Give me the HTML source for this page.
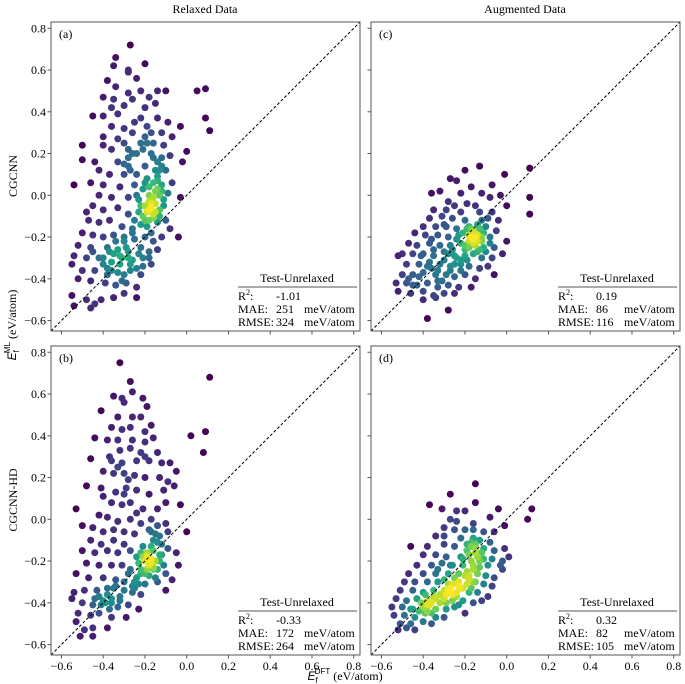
<!DOCTYPE html>
<html><head><meta charset="utf-8"><style>
html,body{margin:0;padding:0;background:#fff;}
svg{display:block;font-family:"Liberation Serif",serif;}
</style></head><body>
<svg id="chart" width="685" height="684" viewBox="0 0 685 684" xmlns="http://www.w3.org/2000/svg">
<text x="205" y="13" font-size="12" text-anchor="middle">Relaxed Data</text>
<text x="525" y="13" font-size="12" text-anchor="middle">Augmented Data</text>
<text transform="translate(17,176) rotate(-90)" font-size="12" text-anchor="middle">CGCNN</text>
<text transform="translate(17,500) rotate(-90)" font-size="12" text-anchor="middle">CGCNN-HD</text>
<text transform="translate(16,325) rotate(-90)" font-size="12" text-anchor="middle"><tspan font-family="Liberation Sans,sans-serif" font-style="italic">E</tspan><tspan font-family="Liberation Sans,sans-serif" font-size="8" dy="3">f</tspan><tspan font-family="Liberation Sans,sans-serif" font-size="8" dy="-9" dx="-3">ML</tspan><tspan dy="6">  (eV/atom)</tspan></text>
<text x="345" y="680" font-size="12" text-anchor="middle"><tspan font-family="Liberation Sans,sans-serif" font-style="italic">E</tspan><tspan font-family="Liberation Sans,sans-serif" font-size="8" dy="3">f</tspan><tspan font-family="Liberation Sans,sans-serif" font-size="8" dy="-9" dx="-3">DFT</tspan><tspan dy="6">  (eV/atom)</tspan></text>
<g id="panels"></g>
</svg>
<script>
const ticks = [-0.6,-0.4,-0.2,0.0,0.2,0.4,0.6,0.8];
const tickLabels = ["\u22120.6","\u22120.4","\u22120.2","0.0","0.2","0.4","0.6","0.8"];
const panelLetters = ["(a)","(c)","(b)","(d)"];
const r2Values = ["-1.01","0.19","-0.33","0.32"];
const maeValues = ["251","86","172","82"];
const rmseValues = ["324","116","264","105"];

const aX=[-0.27,-0.34,-0.20,-0.35,-0.28,-0.28,-0.38,-0.24,-0.34,-0.28,-0.22,-0.14,-0.10,0.09,0.05,-0.40,-0.35,-0.26,-0.18,-0.15,-0.30,-0.36,-0.20,-0.45,-0.40,-0.33,-0.22,-0.25,-0.14,-0.09,-0.03,0.09,-0.12,-0.36,-0.30,-0.19,0.11,-0.07,-0.20,-0.26,-0.40,-0.30,-0.22,-0.16,-0.11,-0.50,-0.40,-0.36,-0.28,-0.24,-0.17,-0.12,-0.08,-0.02,0.00,-0.50,-0.44,-0.33,-0.28,-0.20,-0.15,-0.10,-0.42,-0.37,-0.30,-0.24,-0.19,-0.16,-0.12,-0.07,-0.54,-0.46,-0.40,-0.32,-0.25,-0.21,-0.15,-0.13,-0.09,-0.03,-0.42,-0.36,-0.28,-0.23,-0.18,-0.15,-0.17,-0.19,-0.16,-0.13,-0.11,-0.21,-0.18,-0.22,-0.14,-0.10,-0.45,-0.40,-0.33,-0.28,-0.47,-0.42,-0.37,-0.31,-0.26,-0.08,-0.04,-0.50,-0.45,-0.40,-0.35,-0.30,-0.25,-0.20,-0.16,-0.12,-0.52,-0.46,-0.38,-0.33,-0.28,-0.22,-0.18,-0.14,-0.54,-0.48,-0.40,-0.36,-0.31,-0.26,-0.21,-0.17,-0.55,-0.50,-0.44,-0.38,-0.33,-0.27,-0.22,-0.52,-0.46,-0.39,-0.34,-0.29,-0.24,-0.55,-0.48,-0.41,-0.35,-0.30,-0.54,-0.46,-0.44,-0.24,-0.17,-0.18,-0.15,-0.20,-0.16,-0.14,-0.12,-0.20,-0.23,-0.19,-0.17,-0.25,-0.14,-0.18,-0.35,-0.40,-0.36,-0.32,-0.30,-0.28,-0.26,-0.28,-0.30,-0.13,-0.14,-0.16,
 -0.21,-0.19,-0.17,-0.14,-0.12,-0.22,-0.24,-0.16,-0.13,-0.11,-0.18,-0.20,-0.26,-0.30,-0.34,-0.37,-0.32,-0.29,-0.27,-0.24,-0.38,-0.42,-0.31,-0.21,-0.23,-0.18,-0.27,-0.33,-0.45,-0.48];
const aY=[0.72,0.66,0.63,0.62,0.60,0.59,0.55,0.56,0.52,0.49,0.50,0.50,0.50,0.51,0.50,0.47,0.46,0.46,0.47,0.44,0.43,0.42,0.42,0.38,0.38,0.39,0.37,0.35,0.37,0.35,0.33,0.37,0.30,0.33,0.32,0.33,0.31,0.28,0.28,0.30,0.28,0.25,0.25,0.25,0.24,0.24,0.24,0.22,0.22,0.20,0.20,0.18,0.19,0.16,0.21,0.17,0.16,0.16,0.14,0.14,0.12,0.12,0.12,0.10,0.10,0.10,0.08,0.06,0.05,0.06,0.05,0.06,0.05,0.04,0.05,0.03,0.02,0.00,0.01,-0.01,0.00,-0.01,-0.01,-0.02,-0.03,-0.04,-0.06,-0.08,-0.09,-0.07,-0.05,-0.10,-0.12,-0.14,-0.13,-0.12,-0.05,-0.07,-0.06,-0.09,-0.12,-0.13,-0.12,-0.15,-0.16,-0.16,-0.20,-0.18,-0.19,-0.20,-0.19,-0.22,-0.21,-0.20,-0.22,-0.20,-0.24,-0.25,-0.25,-0.26,-0.27,-0.25,-0.27,-0.26,-0.29,-0.30,-0.30,-0.32,-0.30,-0.31,-0.30,-0.33,-0.33,-0.36,-0.36,-0.35,-0.37,-0.36,-0.38,-0.40,-0.41,-0.42,-0.43,-0.42,-0.44,-0.48,-0.50,-0.50,-0.49,-0.47,-0.53,-0.54,-0.52,-0.49,-0.04,-0.07,-0.08,-0.05,-0.01,0.03,0.02,-0.12,-0.08,-0.15,-0.18,-0.12,0.07,0.00,-0.28,-0.33,-0.36,-0.33,-0.38,-0.30,0.20,0.18,0.15,0.12,0.16,0.18,
 0.22,0.25,0.30,0.09,0.14,-0.05,0.00,-0.11,-0.10,-0.02,0.04,0.06,-0.18,-0.20,-0.22,-0.27,-0.29,-0.25,-0.33,-0.35,-0.38,-0.30,-0.41,-0.34,-0.28,-0.30,0.12,0.27,-0.27,-0.08];

const bX=[-0.32,0.11,-0.27,-0.26,-0.35,-0.31,-0.30,-0.21,-0.19,-0.41,-0.33,-0.22,-0.26,-0.36,-0.31,-0.27,-0.17,-0.20,0.09,-0.44,-0.38,-0.33,-0.26,-0.20,-0.16,0.02,-0.32,-0.27,-0.22,-0.14,0.08,-0.46,-0.36,-0.31,-0.24,-0.18,-0.12,-0.08,-0.40,-0.35,-0.30,-0.25,-0.20,-0.13,-0.09,-0.05,-0.48,-0.41,-0.34,-0.29,-0.24,-0.18,-0.11,-0.06,-0.03,-0.36,-0.31,-0.27,-0.21,-0.14,-0.10,-0.42,-0.38,-0.33,-0.27,-0.22,-0.17,-0.14,-0.10,-0.53,-0.50,-0.45,-0.40,-0.35,-0.30,-0.25,-0.17,-0.13,-0.09,0.00,-0.46,-0.41,-0.35,-0.30,-0.16,-0.12,-0.09,-0.50,-0.44,-0.38,-0.33,-0.27,-0.22,-0.19,-0.17,-0.20,-0.18,-0.15,-0.13,-0.11,-0.23,-0.14,-0.05,-0.04,-0.48,-0.42,-0.36,-0.31,-0.27,-0.22,-0.18,-0.10,-0.53,-0.47,-0.40,-0.34,-0.30,-0.25,-0.20,-0.14,-0.07,-0.54,-0.49,-0.43,-0.38,-0.35,-0.32,-0.26,-0.22,-0.10,-0.55,-0.50,-0.45,-0.40,-0.36,-0.33,-0.28,-0.23,-0.52,-0.46,-0.42,-0.36,-0.29,-0.53,-0.49,-0.45,-0.38,-0.51,-0.45,-0.39,-0.37,-0.41,-0.24,-0.21,-0.19,-0.16,-0.15,-0.19,-0.18,-0.17,-0.21,-0.16,
 -0.21,-0.19,-0.17,-0.16,-0.22,-0.24,-0.14,-0.13,-0.20,-0.26,-0.28,-0.30,-0.32,-0.34,-0.38,-0.42,-0.44,-0.36,-0.25,-0.23,-0.15,-0.12,-0.18,-0.30,-0.28,-0.24,-0.33,-0.20,-0.37,-0.40];
const bY=[0.75,0.68,0.66,0.61,0.59,0.58,0.56,0.58,0.54,0.52,0.49,0.49,0.49,0.44,0.43,0.44,0.45,0.42,0.42,0.39,0.38,0.38,0.38,0.37,0.39,0.40,0.33,0.34,0.32,0.32,0.32,0.29,0.28,0.27,0.28,0.28,0.27,0.27,0.23,0.22,0.22,0.21,0.20,0.20,0.18,0.23,0.16,0.15,0.13,0.15,0.14,0.12,0.14,0.16,0.07,0.08,0.07,0.08,0.05,0.05,0.08,0.02,0.01,-0.01,0.00,-0.02,0.00,-0.03,-0.02,0.05,-0.03,-0.04,-0.06,-0.05,-0.06,-0.07,-0.06,-0.08,-0.06,-0.06,-0.10,-0.12,-0.10,-0.12,-0.10,-0.12,-0.14,-0.15,-0.16,-0.15,-0.16,-0.15,-0.16,-0.17,-0.19,-0.20,-0.22,-0.20,-0.17,-0.22,-0.21,-0.24,-0.16,-0.22,-0.21,-0.22,-0.22,-0.22,-0.24,-0.26,-0.27,-0.26,-0.26,-0.28,-0.28,-0.29,-0.30,-0.30,-0.31,-0.30,-0.29,-0.35,-0.34,-0.34,-0.36,-0.33,-0.37,-0.35,-0.36,-0.34,-0.38,-0.40,-0.41,-0.39,-0.40,-0.42,-0.41,-0.43,-0.45,-0.46,-0.45,-0.47,-0.47,-0.49,-0.53,-0.52,-0.52,-0.56,-0.56,-0.40,-0.43,-0.41,-0.18,-0.13,-0.24,-0.15,-0.28,-0.18,-0.19,-0.21,-0.18,-0.23,
 -0.18,-0.16,-0.13,-0.24,-0.24,-0.28,-0.11,-0.20,-0.26,-0.32,-0.26,-0.34,-0.39,-0.32,-0.33,-0.37,-0.38,-0.38,-0.33,-0.31,-0.07,-0.17,-0.05,0.12,0.19,0.03,0.25,0.30,0.30,0.11];

const cX=[-0.13,-0.01,-0.20,-0.27,-0.24,-0.17,-0.07,0.11,-0.32,-0.36,-0.22,-0.12,-0.03,-0.08,0.11,0.00,-0.28,-0.25,-0.19,-0.15,-0.35,-0.29,-0.22,-0.13,-0.07,0.11,-0.37,-0.31,-0.26,-0.20,-0.12,-0.09,-0.04,-0.40,-0.34,-0.30,-0.24,-0.19,-0.16,-0.13,-0.10,-0.05,-0.44,-0.39,-0.33,-0.28,-0.23,-0.18,-0.16,-0.14,-0.12,-0.08,-0.47,-0.43,-0.37,-0.32,-0.27,-0.22,-0.18,-0.15,-0.11,-0.06,0.00,-0.50,-0.45,-0.40,-0.35,-0.30,-0.25,-0.20,-0.16,-0.12,-0.07,-0.02,-0.52,-0.48,-0.42,-0.37,-0.32,-0.27,-0.22,-0.18,-0.13,-0.09,-0.50,-0.45,-0.40,-0.34,-0.29,-0.25,-0.20,-0.15,-0.06,-0.53,-0.48,-0.43,-0.38,-0.33,-0.28,-0.23,-0.17,-0.52,-0.46,-0.40,-0.35,-0.30,-0.25,-0.40,-0.34,-0.28,-0.38,-0.17,-0.16,-0.15,-0.14,-0.18,-0.20,-0.13,-0.24,-0.22,-0.28,-0.17,-0.14,-0.11,-0.33,-0.36,
 -0.18,-0.16,-0.14,-0.12,-0.20,-0.22,-0.25,-0.27,-0.30,-0.33,-0.35,-0.38,-0.42,-0.45,-0.31,-0.26,-0.19,-0.10,-0.08,-0.24,-0.29,-0.36,-0.41,-0.47,-0.21];
const cY=[0.14,0.10,0.12,0.08,0.07,0.04,0.05,0.13,0.02,0.01,0.01,0.01,0.00,-0.01,-0.01,-0.05,-0.03,-0.05,-0.04,-0.05,-0.07,-0.07,-0.08,-0.08,-0.08,-0.09,-0.11,-0.10,-0.11,-0.12,-0.12,-0.11,-0.12,-0.15,-0.15,-0.14,-0.16,-0.16,-0.17,-0.16,-0.15,-0.17,-0.18,-0.19,-0.19,-0.20,-0.19,-0.19,-0.21,-0.19,-0.22,-0.20,-0.23,-0.24,-0.23,-0.24,-0.24,-0.23,-0.25,-0.24,-0.25,-0.25,-0.22,-0.28,-0.28,-0.28,-0.29,-0.27,-0.29,-0.29,-0.28,-0.30,-0.30,-0.28,-0.29,-0.33,-0.33,-0.32,-0.33,-0.34,-0.33,-0.34,-0.35,-0.34,-0.38,-0.38,-0.37,-0.38,-0.38,-0.39,-0.38,-0.40,-0.38,-0.42,-0.42,-0.43,-0.42,-0.44,-0.43,-0.44,-0.44,-0.46,-0.47,-0.46,-0.48,-0.47,-0.47,-0.50,-0.49,-0.55,-0.59,-0.20,-0.18,-0.20,-0.22,-0.22,-0.24,-0.26,-0.30,-0.36,-0.28,-0.16,-0.14,-0.18,-0.41,-0.35,
 -0.15,-0.23,-0.27,-0.20,-0.26,-0.31,-0.33,-0.36,-0.31,-0.36,-0.26,-0.34,-0.39,-0.43,-0.41,-0.26,-0.31,-0.27,-0.23,-0.21,-0.15,-0.21,-0.29,-0.40,-0.18];

const dX=[-0.15,-0.27,-0.15,-0.37,-0.31,-0.24,-0.04,-0.20,-0.08,0.10,0.12,-0.27,-0.24,-0.16,-0.01,-0.30,-0.25,-0.20,-0.16,-0.11,-0.06,-0.34,-0.30,-0.22,-0.16,-0.13,-0.08,-0.46,-0.38,-0.30,-0.25,-0.19,-0.15,-0.11,-0.06,-0.01,-0.40,-0.34,-0.29,-0.22,-0.18,-0.14,-0.11,-0.07,-0.02,-0.43,-0.36,-0.31,-0.26,-0.21,-0.16,-0.13,-0.09,-0.03,0.01,-0.47,-0.40,-0.34,-0.28,-0.23,-0.18,-0.14,-0.10,-0.06,-0.02,-0.49,-0.44,-0.38,-0.33,-0.28,-0.23,-0.19,-0.15,-0.11,-0.07,-0.51,-0.45,-0.40,-0.35,-0.30,-0.27,-0.24,-0.21,-0.18,-0.14,-0.09,-0.53,-0.48,-0.43,-0.38,-0.34,-0.30,-0.26,-0.21,-0.16,-0.12,-0.55,-0.50,-0.45,-0.40,-0.37,-0.34,-0.29,-0.25,-0.20,-0.54,-0.49,-0.44,-0.39,-0.34,-0.30,-0.51,-0.46,-0.40,-0.36,-0.52,-0.48,-0.44,-0.22,-0.23,-0.28,-0.29,-0.36,-0.17,-0.16,-0.19,-0.17,-0.15,-0.15,-0.17,-0.32,-0.38,-0.26,
 -0.18,-0.20,-0.24,-0.26,-0.30,-0.32,-0.35,-0.38,-0.41,-0.16,-0.13,-0.19,-0.21,-0.27,-0.33,-0.42,-0.46,-0.25,-0.14,-0.12,-0.23,-0.36,-0.39,-0.29,-0.17];
const dY=[0.17,0.12,0.08,0.07,0.05,0.04,0.05,0.04,0.01,0.00,0.05,0.00,-0.01,-0.02,-0.03,-0.04,-0.05,-0.05,-0.05,-0.06,-0.06,-0.08,-0.08,-0.09,-0.09,-0.10,-0.11,-0.13,-0.13,-0.12,-0.13,-0.12,-0.14,-0.14,-0.15,-0.14,-0.17,-0.17,-0.18,-0.18,-0.17,-0.18,-0.19,-0.19,-0.20,-0.22,-0.22,-0.21,-0.22,-0.22,-0.22,-0.23,-0.22,-0.22,-0.18,-0.26,-0.26,-0.26,-0.26,-0.26,-0.27,-0.26,-0.27,-0.28,-0.24,-0.30,-0.30,-0.30,-0.30,-0.31,-0.30,-0.31,-0.30,-0.31,-0.32,-0.34,-0.34,-0.35,-0.34,-0.34,-0.33,-0.35,-0.33,-0.35,-0.35,-0.37,-0.38,-0.39,-0.38,-0.39,-0.38,-0.38,-0.39,-0.39,-0.40,-0.39,-0.42,-0.42,-0.43,-0.42,-0.41,-0.43,-0.43,-0.42,-0.45,-0.46,-0.46,-0.47,-0.45,-0.47,-0.47,-0.50,-0.50,-0.49,-0.50,-0.53,-0.52,-0.53,-0.33,-0.32,-0.34,-0.36,-0.40,-0.33,-0.30,-0.25,-0.20,-0.16,-0.12,-0.13,-0.40,-0.44,-0.31,
 -0.29,-0.27,-0.37,-0.36,-0.29,-0.36,-0.37,-0.41,-0.40,-0.24,-0.20,-0.15,-0.19,-0.22,-0.24,-0.44,-0.43,-0.28,-0.26,-0.16,-0.41,-0.45,-0.36,-0.40,-0.11];

const NS="http://www.w3.org/2000/svg";
const DMIN=-0.65, DMAX=0.83, SIZE=309;
const panels=[
 {left:51,top:22,xs:aX,ys:aY,xlab:false,ylab:true},
 {left:371,top:22,xs:cX,ys:cY,xlab:false,ylab:false},
 {left:51,top:346,xs:bX,ys:bY,xlab:true,ylab:true},
 {left:371,top:346,xs:dX,ys:dY,xlab:true,ylab:false}
];
const vir=["#440154","#482878","#3e4989","#31688e","#26828e","#1f9e89","#35b779","#6ece58","#b5de2b","#fde725"];
function hex(h){return [1,3,5].map(i=>parseInt(h.substr(i,2),16));}
function viridis(t){t=Math.max(0,Math.min(1,t));const f=t*(vir.length-1),i=Math.min(vir.length-2,Math.floor(f)),u=f-i;const a=hex(vir[i]),b=hex(vir[i+1]);return "rgb("+a.map((v,k)=>Math.round(v+(b[k]-v)*u)).join(",")+")";}
function el(tag,attrs,parent){const e=document.createElementNS(NS,tag);for(const k in attrs)e.setAttribute(k,attrs[k]);parent.appendChild(e);return e;}
const root=document.getElementById('panels');
panels.forEach((p,pi)=>{
 const sx=v=>p.left+(v-DMIN)/(DMAX-DMIN)*SIZE;
 const sy=v=>p.top+SIZE-(v-DMIN)/(DMAX-DMIN)*SIZE;
 const g=el('g',{},root);
 
 
 const n=p.xs.length, dens=[];
 for(let i=0;i<n;i++){let s=0;for(let j=0;j<n;j++){const dx=p.xs[i]-p.xs[j],dy=p.ys[i]-p.ys[j];s+=Math.exp(-(dx*dx+dy*dy)/(2*0.04*0.04));}dens.push(s);}
 const mx=Math.max(...dens), mn=Math.min(...dens);
 const order=[...Array(n).keys()].sort((a,b)=>dens[a]-dens[b]);
 const pg=el('g',{},g);
 
 
 order.forEach(i=>{
  const c=el('circle',{cx:sx(p.xs[i]).toFixed(1),cy:sy(p.ys[i]).toFixed(1),r:3.5,fill:viridis(Math.pow((dens[i]-mn)/(mx-mn),1.1))},pg);
  
  
 });
 const dl=el('line',{x1:sx(DMIN),y1:sy(DMIN),x2:sx(DMAX),y2:sy(DMAX),stroke:"#000","stroke-width":1,"stroke-dasharray":"3,2"},g);
 
 
 const fr=el('rect',{x:p.left,y:p.top,width:SIZE,height:SIZE,fill:"none",stroke:"#555","stroke-width":1},g);
 
 
 ticks.forEach((t,ti)=>{
  const X=sx(t), Y=sy(t);
  el('line',{x1:X,y1:p.top+SIZE,x2:X,y2:p.top+SIZE+3.5,stroke:"#555"},g);
  if(p.xlab){const tx=el('text',{x:X,y:p.top+SIZE+15,"font-size":12,"text-anchor":"middle"},g);tx.textContent=tickLabels[ti];
   
   }
  if(Y>=p.top-0.5){el('line',{x1:p.left-3.5,y1:Y,x2:p.left,y2:Y,stroke:"#555"},g);
   if(p.ylab){const ty=el('text',{x:p.left-5,y:Y+4,"font-size":12,"text-anchor":"end"},g);ty.textContent=tickLabels[ti];
    
    }}
 });
 const lt=el('text',{x:p.left+8,y:p.top+16,"font-size":12},g);lt.textContent=panelLetters[pi];
 
 
 const bx=p.left+187, by=p.top+260;
 const sg=el('g',{"font-size":12},g);
 
 
 const h=el('text',{x:bx+59,y:by,"text-anchor":"middle"},sg);h.textContent="Test-Unrelaxed";
 el('line',{x1:bx,y1:by+5,x2:bx+119,y2:by+5,stroke:"#555","stroke-width":1},sg);
 const r=el('text',{x:bx,y:by+18},sg);r.innerHTML='R<tspan font-size="8" dy="-5">2</tspan><tspan dy="5">:</tspan>';
 const rv=el('text',{x:bx+38,y:by+18},sg);rv.textContent=r2Values[pi];
 const m=el('text',{x:bx,y:by+31},sg);m.textContent="MAE:";
 const mv=el('text',{x:bx+38,y:by+31},sg);mv.textContent=maeValues[pi];
 const mu=el('text',{x:bx+66,y:by+31},sg);mu.textContent="meV/atom";
 const s=el('text',{x:bx,y:by+44},sg);s.textContent="RMSE:";
 const sv=el('text',{x:bx+38,y:by+44},sg);sv.textContent=rmseValues[pi];
 const su=el('text',{x:bx+66,y:by+44},sg);su.textContent="meV/atom";
});
</script>
</body></html>
